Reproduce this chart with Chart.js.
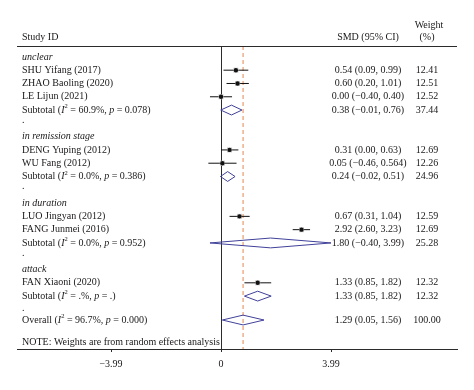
<!DOCTYPE html>
<html>
<head>
<meta charset="utf-8">
<script src="https://cdn.jsdelivr.net/npm/chart.js@4/dist/chart.umd.min.js"></script>
<style>
  html, body { margin: 0; padding: 0; background: #fff; }
</style>
</head>
<body>
<canvas id="forest" width="474" height="390"></canvas>
<script>
// subgroups
var groupNames = ['unclear', 'in remission stage', 'in duration', 'attack'];
var groupRows = [0, 6, 11, 16];
var subRows = [4, 9, 14, 18];
var subI2 = ['60.9%', '0.0%', '0.0%', '.%'];
var subP = ['0.078', '0.386', '0.952', '.'];
var subSmd = [0.38, 0.24, 1.80, 1.33];
var subLo = [-0.01, -0.02, -0.40, 0.85];
var subHi = [0.76, 0.51, 3.99, 1.82];
var subCiText = ['0.38 (\u22120.01, 0.76)', '0.24 (\u22120.02, 0.51)', '1.80 (\u22120.40, 3.99)', '1.33 (0.85, 1.82)'];
var subWeight = ['37.44', '24.96', '25.28', '12.32'];

// studies
var studyNames = ['SHU Yifang (2017)', 'ZHAO Baoling (2020)', 'LE Lijun (2021)', 'DENG Yuping (2012)',
  'WU Fang (2012)', 'LUO Jingyan (2012)', 'FANG Junmei (2016)', 'FAN Xiaoni (2020)'];
var studyRows = [1, 2, 3, 7, 8, 12, 13, 17];
var studySmd = [0.54, 0.60, 0.00, 0.31, 0.05, 0.67, 2.92, 1.33];
var studyLo = [0.09, 0.20, -0.40, 0.00, -0.46, 0.31, 2.60, 0.85];
var studyHi = [0.99, 1.01, 0.40, 0.63, 0.564, 1.04, 3.23, 1.82];
var studyCiText = ['0.54 (0.09, 0.99)', '0.60 (0.20, 1.01)', '0.00 (\u22120.40, 0.40)', '0.31 (0.00, 0.63)',
  '0.05 (\u22120.46, 0.564)', '0.67 (0.31, 1.04)', '2.92 (2.60, 3.23)', '1.33 (0.85, 1.82)'];
var studyWeight = ['12.41', '12.51', '12.52', '12.69', '12.26', '12.59', '12.69', '12.32'];

// overall (diamond as drawn in the picture)
var overallRow = 19.8;
var overallSmd = 0.80;
var overallLo = 0.05;
var overallHi = 1.56;
var overallI2 = '96.7%';
var overallP = '0.000';
var overallCiText = '1.29 (0.05, 1.56)';
var overallWeight = '100.00';

var blankRows = [4.75, 9.75, 14.75, 18.9];
var noteRow = 21.45;
var noteText = 'NOTE: Weights are from random effects analysis';

// axis
var tickVals = [-3.99, 0, 3.99];
var tickLabels = ['\u22123.99', '0', '3.99'];
var xMin = -7.40, xMax = 8.56;
var yTop = -0.82, yBottom = 21.98;

var ink = '#1a1718';
var lineInk = '#2b2b2b';
var diamondInk = '#40409a';
var refInk = '#e0894d';
var serif = '"Liberation Serif", "DejaVu Serif", serif';
var baseFont = '10px ' + serif;

function diamond(lo, mid, hi, row) {
  var h = 0.37;
  return [{x: lo, y: row}, {x: mid, y: row - h}, {x: hi, y: row}, {x: mid, y: row + h}, {x: lo, y: row}];
}

var datasets = [];
datasets.push({
  type: 'scatter',
  data: studySmd.map(function (v, i) { return {x: v, y: studyRows[i]}; }),
  pointStyle: 'circle', pointRadius: 2.2, backgroundColor: '#111', borderWidth: 0
});
datasets.push({
  type: 'scatter',
  data: studySmd.map(function (v, i) { return {x: v, y: studyRows[i]}; }),
  pointStyle: 'rect', pointRadius: 3.6, backgroundColor: '#cfcfcf', borderWidth: 0
});
studySmd.forEach(function (v, i) {
  datasets.push({
    type: 'line',
    data: [{x: studyLo[i], y: studyRows[i]}, {x: studyHi[i], y: studyRows[i]}],
    borderColor: '#111', borderWidth: 1, pointRadius: 0
  });
});
subSmd.forEach(function (v, i) {
  datasets.push({
    type: 'line',
    data: diamond(subLo[i], v, subHi[i], subRows[i]),
    borderColor: diamondInk, borderWidth: 1, pointRadius: 0, tension: 0
  });
});
datasets.push({
  type: 'line',
  data: diamond(overallLo, overallSmd, overallHi, overallRow),
  borderColor: diamondInk, borderWidth: 1, pointRadius: 0, tension: 0
});
datasets.push({
  type: 'line',
  data: [{x: overallSmd, y: yTop}, {x: overallSmd, y: yBottom}],
  borderColor: refInk, borderWidth: 1, borderDash: [4, 3], pointRadius: 0
});

function drawRich(ctx, str, x, y) {
  var cx = x;
  str.split(/(\*[^*]*\*|\^[^^]*\^)/).forEach(function (tok) {
    if (!tok) return;
    var t = tok, dy = 0;
    ctx.font = baseFont;
    if (tok[0] === '*') { t = tok.slice(1, -1); ctx.font = 'italic ' + baseFont; }
    else if (tok[0] === '^') { t = tok.slice(1, -1); ctx.font = '6.5px ' + serif; dy = -3.5; }
    ctx.fillText(t, cx, y + dy);
    cx += ctx.measureText(t).width;
  });
}

var tableText = {
  id: 'tableText',
  afterDraw: function (chart) {
    var ctx = chart.ctx;
    var area = chart.chartArea;
    var ys = chart.scales.y;
    var labelX = area.left + 5, ciX = 368, wX = 427;
    ctx.save();
    ctx.fillStyle = ink;
    ctx.textBaseline = 'middle';

    // header
    ctx.strokeStyle = lineInk;
    ctx.lineWidth = 1;
    ctx.beginPath();
    ctx.moveTo(area.left, Math.round(area.top) + 0.5);
    ctx.lineTo(area.right, Math.round(area.top) + 0.5);
    ctx.stroke();
    ctx.font = baseFont;
    ctx.textAlign = 'left';
    ctx.fillText('Study ID', labelX, area.top - 9);
    ctx.textAlign = 'center';
    ctx.fillText('SMD (95% CI)', ciX, area.top - 9);
    ctx.fillText('Weight', wX + 2, area.top - 21);
    ctx.fillText('(%)', wX, area.top - 9);

    ctx.textAlign = 'left';
    groupNames.forEach(function (g, i) {
      drawRich(ctx, '*' + g + '*', labelX, ys.getPixelForValue(groupRows[i]));
    });
    studyNames.forEach(function (s, i) {
      drawRich(ctx, s, labelX, ys.getPixelForValue(studyRows[i]));
    });
    subRows.forEach(function (r, i) {
      drawRich(ctx, 'Subtotal (*I*^2^ = ' + subI2[i] + ', *p* = ' + subP[i] + ')', labelX, ys.getPixelForValue(r));
    });
    blankRows.forEach(function (r) {
      drawRich(ctx, '.', labelX, ys.getPixelForValue(r));
    });
    drawRich(ctx, 'Overall (*I*^2^ = ' + overallI2 + ', *p* = ' + overallP + ')', labelX, ys.getPixelForValue(overallRow));
    drawRich(ctx, noteText, labelX, ys.getPixelForValue(noteRow));

    ctx.font = baseFont;
    ctx.textAlign = 'center';
    studyCiText.forEach(function (t, i) {
      var y = ys.getPixelForValue(studyRows[i]);
      ctx.fillText(t, ciX, y);
      ctx.fillText(studyWeight[i], wX, y);
    });
    subCiText.forEach(function (t, i) {
      var y = ys.getPixelForValue(subRows[i]);
      ctx.fillText(t, ciX, y);
      ctx.fillText(subWeight[i], wX, y);
    });
    var oy = ys.getPixelForValue(overallRow);
    ctx.fillText(overallCiText, ciX, oy);
    ctx.fillText(overallWeight, wX, oy);
    ctx.restore();
  }
};

new Chart(document.getElementById('forest'), {
  type: 'scatter',
  data: {datasets: datasets},
  options: {
    responsive: false,
    animation: false,
    events: [],
    layout: {padding: {left: 17, right: 17, top: 46, bottom: 14}},
    plugins: {legend: {display: false}, tooltip: {enabled: false}},
    scales: {
      x: {
        type: 'linear',
        min: xMin,
        max: xMax,
        afterBuildTicks: function (axis) {
          axis.ticks = tickVals.map(function (v) { return {value: v}; });
        },
        ticks: {
          autoSkip: false,
          maxRotation: 0,
          padding: 6,
          color: ink,
          font: {family: serif, size: 10},
          callback: function (v, i) { return tickLabels[i]; }
        },
        grid: {
          color: function (c) { return c.tick && c.tick.value === 0 ? lineInk : 'rgba(0,0,0,0)'; },
          tickColor: lineInk,
          tickLength: 3,
          lineWidth: 1
        },
        border: {display: true, color: lineInk, width: 1}
      },
      y: {
        type: 'linear',
        display: false,
        reverse: true,
        min: yTop,
        max: yBottom
      }
    }
  },
  plugins: [tableText]
});
</script>
</body>
</html>
